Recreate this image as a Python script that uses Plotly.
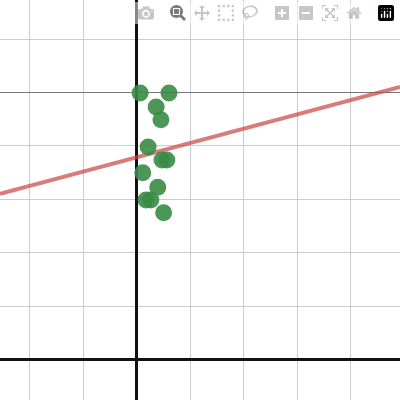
import plotly.graph_objects as go

xs = [0.06, 0.60, 0.36, 0.45, 0.21, 0.47, 0.56, 0.11, 0.39, 0.17, 0.26, 0.50]
ys = [4.99, 4.99, 4.73, 4.49, 3.98, 3.74, 3.74, 3.50, 3.23, 2.99, 2.99, 2.75]
slope = 0.267
intercept = 3.79
ref_y = 5.0
x_range = [-2.56, 4.92]
y_range = [-0.75, 6.73]

fig = go.Figure()
fig.add_trace(go.Scatter(x=x_range, y=[ref_y, ref_y], mode="lines",
                         line=dict(color="#777777", width=1), hoverinfo="skip"))
fig.add_trace(go.Scatter(x=x_range, y=[intercept + slope * x for x in x_range], mode="lines",
                         line=dict(color="rgba(199,68,64,0.7)", width=4)))
fig.add_trace(go.Scatter(x=xs, y=ys, mode="markers",
                         marker=dict(color="rgba(56,140,70,0.9)", size=17)))
ax = dict(dtick=1, showgrid=True, gridcolor="#cccccc", gridwidth=1,
          zeroline=True, zerolinecolor="#111111", zerolinewidth=2.5,
          showticklabels=False, ticks="", showline=False)
fig.update_layout(width=400, height=400, margin=dict(l=0, r=0, t=0, b=0),
                  plot_bgcolor="white", paper_bgcolor="white", showlegend=False,
                  xaxis=dict(ax, range=x_range), yaxis=dict(ax, range=y_range))
fig.write_html("out.html",
               post_script="document.body.style.margin='0';document.body.style.overflow='hidden';")
